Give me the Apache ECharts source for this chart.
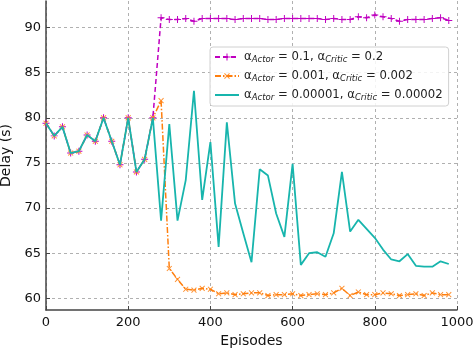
<!DOCTYPE html>
<html>
<head>
<meta charset="utf-8">
<script src="https://cdn.jsdelivr.net/npm/echarts@6/dist/echarts.min.js"></script>
<style>
  html, body { margin: 0; padding: 0; background: #fff; }
  #chart { width: 474px; height: 351px; }
</style>
</head>
<body>
<div id="chart"></div>
<script>
// episodes, every 20
const episodes = []
for (let e = 0; e <= 980; e += 20) episodes.push(e)

// shared start, 0..260
const startVals = [79.4, 78.0, 79.0, 76.1, 76.3, 78.1, 77.4, 80.0, 77.4, 74.8, 80.0, 74.0, 75.4, 80.0]

// 280..980
const fastTail = [91.1, 90.9, 90.9, 91.0, 90.7, 91.0, 91.0, 91.0, 91.0, 90.9, 91.0, 91.0, 91.0, 90.9, 90.9, 91.0, 91.0, 91.0,
  91.0, 91.0, 90.9, 91.0, 90.9, 90.9, 91.2, 91.1, 91.4, 91.2, 91.0, 90.7, 90.9, 90.9, 90.9, 91.0, 91.1, 90.8]
const midTail = [81.9, 63.3, 62.1, 61.0, 60.9, 61.1, 61.0, 60.5, 60.6, 60.4, 60.5, 60.6, 60.6, 60.3, 60.4, 60.4, 60.5, 60.3,
  60.4, 60.5, 60.4, 60.6, 61.1, 60.3, 60.7, 60.4, 60.4, 60.6, 60.5, 60.3, 60.4, 60.5, 60.3, 60.6, 60.4, 60.4]
const slowTail = [68.6, 79.3, 68.6, 73.1, 83.0, 70.9, 77.3, 65.7, 79.5, 70.5, 67.2, 64.0, 74.3, 73.6, 69.4, 66.8, 74.9, 63.7,
  65.0, 65.1, 64.6, 67.2, 74.0, 67.4, 68.7, 67.7, 66.7, 65.4, 64.3, 64.1, 64.9, 63.6, 63.5, 63.5, 64.1, 63.8]

const yTicks = [60, 65, 70, 75, 80, 85, 90]

const seriesNames = ['fast', 'mid', 'slow']
const legendText = {
  fast: '{a|α}{s|Actor}{a| = 0.1, α}{s|Critic}{a| = 0.2}',
  mid: '{a|α}{s|Actor}{a| = 0.001, α}{s|Critic}{a| = 0.002}',
  slow: '{a|α}{s|Actor}{a| = 0.00001, α}{s|Critic}{a| = 0.00002}'
}

function pairs(tail) {
  const vals = startVals.concat(tail)
  return episodes.map((e, i) => [e, vals[i]])
}

const plusPath = 'path://M4.3,0h1.4v4.3h4.3v1.4h-4.3v4.3h-1.4v-4.3h-4.3v-1.4h4.3z'
const font = 'DejaVu Sans'

const chart = echarts.init(document.getElementById('chart'))
const option = {
  animation: false,
  textStyle: { fontFamily: font },
  grid: { left: 46, right: 17, top: 1, bottom: 41, outerBoundsMode: 'none', containLabel: false },
  legend: {
    orient: 'vertical',
    left: 210,
    top: 47,
    padding: [4, 6, 4, 4],
    itemGap: 6,
    itemWidth: 24,
    itemHeight: 9,
    backgroundColor: 'rgba(255,255,255,0.85)',
    borderColor: '#d0d0d0',
    borderWidth: 1,
    borderRadius: 3,
    data: [
      { name: 'fast' },
      { name: 'mid' },
      { name: 'slow', itemStyle: { color: 'rgba(0,0,0,0)', borderWidth: 0 } }
    ],
    formatter: name => legendText[name],
    textStyle: {
      rich: {
        a: { fontSize: 11.7, color: '#222', fontFamily: font },
        s: { fontSize: 8.5, color: '#222', fontStyle: 'italic', fontFamily: font, padding: [5, 0, 0, 0] }
      }
    }
  },
  xAxis: {
    type: 'value',
    min: 0,
    max: 1000,
    interval: 200,
    name: 'Episodes',
    nameLocation: 'middle',
    nameGap: 24,
    nameTextStyle: { fontSize: 14, color: '#111' },
    axisLine: { lineStyle: { color: '#444', width: 1.5 } },
    axisTick: { inside: true, length: 4, lineStyle: { color: '#444' } },
    axisLabel: { fontSize: 13, color: '#111', margin: 6, formatter: v => String(v) },
    splitLine: { lineStyle: { color: '#b0b0b0', type: [3, 3] } }
  },
  yAxis: {
    type: 'value',
    min: 58.7,
    max: 92.95,
    name: 'Delay (s)',
    nameLocation: 'middle',
    nameGap: 28,
    nameTextStyle: { fontSize: 14, color: '#111' },
    axisLine: { show: true, lineStyle: { color: '#444', width: 1.5 } },
    axisTick: { show: true, inside: true, length: 4, customValues: yTicks, lineStyle: { color: '#444' } },
    axisLabel: { fontSize: 13, color: '#111', margin: 5, customValues: yTicks },
    splitLine: { lineStyle: { color: '#b0b0b0', type: [3, 3] } }
  },
  series: [
    {
      name: 'fast',
      type: 'line',
      data: pairs(fastTail),
      symbol: plusPath,
      symbolSize: 7,
      showAllSymbol: true,
      color: '#c000c0',
      itemStyle: { color: '#c000c0' },
      lineStyle: { width: 1.5, type: [5, 3], color: '#c000c0' },
      z: 2
    },
    {
      name: 'mid',
      type: 'line',
      data: pairs(midTail),
      symbol: plusPath,
      symbolRotate: 45,
      symbolSize: 7,
      showAllSymbol: true,
      color: '#ff7f0e',
      itemStyle: { color: '#ff7f0e', opacity: 0.85 },
      lineStyle: { width: 1.5, type: [6, 2, 1.5, 2], color: '#ff7f0e' },
      z: 3
    },
    {
      name: 'slow',
      type: 'line',
      data: pairs(slowTail),
      symbol: 'none',
      color: '#17b5ad',
      lineStyle: { width: 1.8, color: '#17b5ad' },
      z: 4
    }
  ]
}
chart.setOption(option)
</script>
</body>
</html>
